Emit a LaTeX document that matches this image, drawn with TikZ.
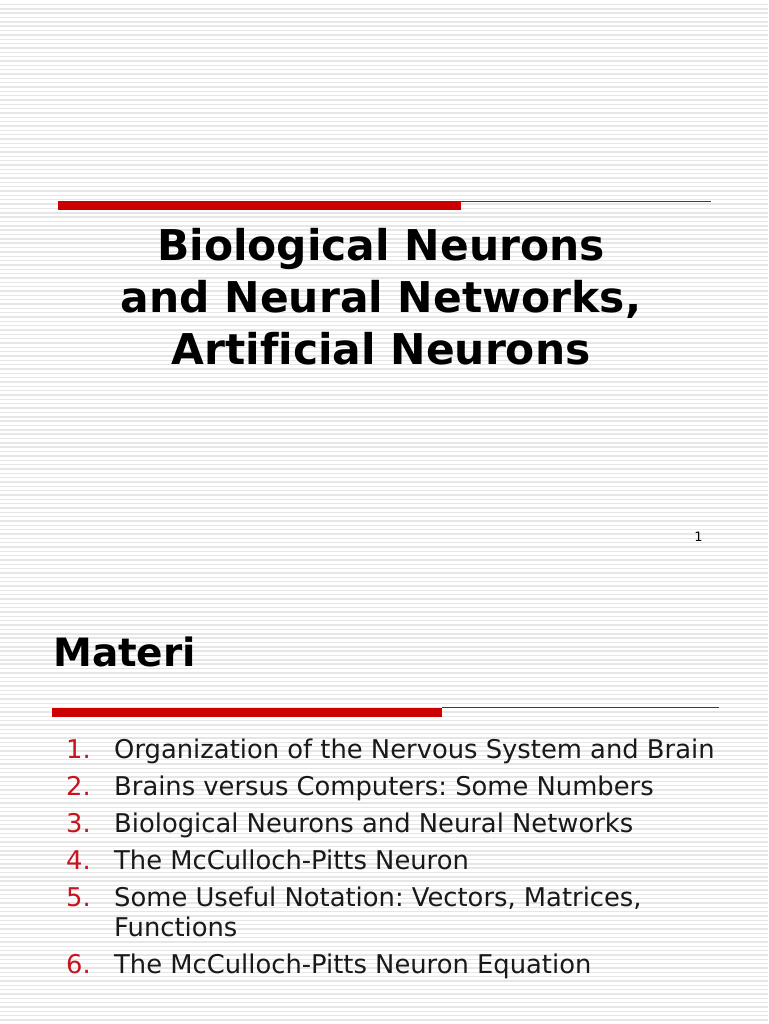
\documentclass[tikz,border=0pt]{standalone}
\usepackage{fontspec}
\setmainfont[Ligatures=NoCommon]{DejaVu Sans}
\frenchspacing
\definecolor{barred}{HTML}{CC0000}
\definecolor{numred}{HTML}{C8141E}
\definecolor{stripe}{HTML}{E6E6E6}
\tikzset{
  titleline/.style={font=\bfseries\fontsize{42.4}{42}\selectfont,anchor=base,inner sep=0pt},
  headline/.style={font=\bfseries\fontsize{39}{39}\selectfont,anchor=base west,inner sep=0pt},
  numlabel/.style={font=\fontsize{25.8}{26}\selectfont,text=numred,anchor=base west,inner sep=0pt},
  itemtext/.style={font=\fontsize{25.8}{26}\selectfont,text=black!90,anchor=base west,inner sep=0pt},
}
\begin{document}
\begin{tikzpicture}[x=1pt,y=-1pt]
\useasboundingbox (0,0) rectangle (768,1024);
\fill[white] (0,0) rectangle (768,1024);
% stripes
\foreach \i in {0,...,235}
  \draw[stripe,line width=1.4pt] (0,{4.5+4.34*\i}) -- (768,{4.5+4.34*\i});
% upper rule
\fill[barred] (58,201) rectangle (461,210);
\fill[barred] (461,200.8) rectangle (711,202);
% lower rule
\fill[barred] (52,708) rectangle (442,716.5);
\fill[barred] (442,707) rectangle (719,708.2);
% title
\node[titleline](t1) at (381,260.5) {Biological Neurons};
\node[titleline](t2) at (381,312.5) {and Neural Networks,};
\node[titleline](t3) at (381,364.5) {Artificial Neurons};
\node[font=\fontsize{13}{13}\selectfont,anchor=base,inner sep=0pt](pagenum) at (698.5,541) {1};
\node[headline](materi) at (53,666) {Materi};
% list
\foreach \num/\ypos/\txt in {
  1/758/{Organization of the Nervous System and Brain},
  2/795/{Brains versus Computers: Some Numbers},
  3/832/{Biological Neurons and Neural Networks},
  4/869/{The McCulloch-Pitts Neuron},
  5/906/{Some Useful Notation: Vectors, Matrices,},
  6/973/{The McCulloch-Pitts Neuron Equation}}{
  \node[numlabel](n\num) at (66,\ypos) {\num.};
  \node[itemtext](i\num) at (114,\ypos) {\txt};
}
\node[itemtext](i5b) at (114,936) {Functions};
\end{tikzpicture}
\end{document}
